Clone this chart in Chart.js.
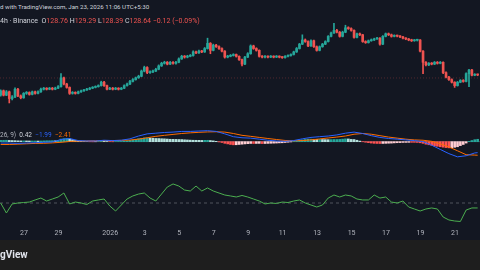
<!DOCTYPE html>
<html>
<head>
<meta charset="utf-8">
<script src="https://cdn.jsdelivr.net/npm/chart.js@4.4.1/dist/chart.umd.min.js"></script>
<style>
  html, body { margin: 0; padding: 0; background: #131722; }
  #wrap { position: relative; width: 480px; height: 270px; overflow: hidden; background: #131722;
          font-family: Roboto, "Liberation Sans", sans-serif; }
  canvas { position: absolute; left: 0; }
  .txt { position: absolute; white-space: nowrap; line-height: 1; }
  .red { color: #ef5350; }
</style>
</head>
<body>
<div id="wrap">
  <canvas id="main" width="480" height="110" style="top:14px"></canvas>
  <canvas id="macd" width="480" height="51" style="top:124px"></canvas>
  <canvas id="rsi" width="480" height="65" style="top:175px"></canvas>
  <div class="txt" style="left:0;top:4px;font-size:6.2px;color:#d1d4dc">d with TradingView.com, Jan 23, 2026 11:06 UTC+5:30</div>
  <div class="txt" id="legend" style="left:0;top:18px;font-size:7px;color:#d1d4dc"></div>
  <div class="txt" id="macdLegend" style="left:0;top:132px;font-size:6.5px;color:#b2b5be"></div>
  <div style="position:absolute;left:0;top:240px;width:480px;height:30px;background:#1e1e1e"></div>
  <div class="txt" style="left:0;top:250px;font-size:10px;font-weight:bold;color:#e0e3eb">gView</div>
</div>
<script>
// 4h candles, first one opens Dec 25 15:30 (UTC+5:30)
const firstCandle = Date.parse('2025-12-25T15:30:00+05:30');
const candleMs = 4 * 3600 * 1000;

const opens = [
  122.0,123.7,122.0,123.3,120.7,121.3,124.3,121.7,121.0,122.7,
  123.0,122.3,123.3,122.7,123.3,124.3,124.7,124.3,124.7,124.3,
  124.7,125.3,128.7,126.3,125.0,122.7,123.0,122.7,123.3,123.7,
  124.0,124.3,124.7,125.0,125.3,125.7,127.0,125.7,124.3,124.7,
  124.3,124.7,124.3,124.7,125.7,126.3,127.3,128.0,128.7,129.3,
  131.3,132.7,130.7,131.0,131.3,132.0,133.3,134.3,134.7,134.0,
  134.7,134.3,134.7,136.0,137.0,136.7,137.0,137.3,138.7,138.3,
  139.0,138.7,140.0,142.0,139.3,141.3,140.7,140.0,139.0,136.7,
  137.0,137.3,137.7,137.0,135.7,134.0,136.7,138.0,141.0,140.0,
  139.3,137.0,136.7,137.0,136.7,137.0,136.7,137.0,136.7,136.5,
  137.0,137.3,137.7,138.7,140.0,141.7,143.3,142.7,141.0,143.0,
  140.7,139.3,140.7,141.7,142.7,144.7,146.0,147.0,146.3,144.7,
  146.3,148.0,147.7,147.0,144.3,145.7,145.3,142.7,142.3,143.0,
  143.3,143.7,144.0,141.7,144.7,145.7,145.3,144.7,145.0,144.8,
  144.5,144.0,143.7,143.3,143.0,143.2,143.3,139.0,134.7,133.7,
  134.3,134.0,134.7,134.3,134.7,130.7,129.0,128.0,127.0,125.7,
  127.0,127.7,127.3,130.3,131.7,129.7,130.0
];
const highs = [
  124.1,124.0,123.8,123.6,121.8,124.8,124.6,122.1,123.0,123.4,
  123.3,123.6,123.6,123.7,124.7,125.0,124.9,125.0,125.0,125.1,
  125.7,130.3,129.0,126.6,125.2,123.4,123.3,123.6,124.0,124.3,
  124.6,125.0,125.3,125.6,126.0,127.4,127.3,125.9,125.0,125.0,
  125.0,124.9,125.0,126.0,126.7,127.7,128.4,129.0,129.7,131.7,
  133.2,133.0,131.4,131.7,132.4,133.7,134.7,135.1,135.0,135.0,
  135.0,135.1,136.4,137.4,137.3,137.4,137.7,139.1,139.0,139.4,
  139.3,140.4,144.0,142.3,141.7,141.6,141.0,140.3,139.2,137.4,
  137.7,138.0,137.9,137.2,135.9,137.0,138.4,141.4,141.3,140.3,
  139.5,137.3,137.3,137.2,137.3,137.2,137.3,137.2,136.9,137.3,
  137.6,138.0,139.0,140.4,142.0,145.3,143.7,143.0,143.4,143.3,
  141.0,141.0,142.0,143.0,145.0,146.4,149.7,147.4,146.6,146.7,
  149.0,148.4,148.0,147.2,146.0,146.0,145.5,143.0,143.3,143.7,
  144.0,144.3,144.2,145.0,146.0,146.0,145.6,145.3,145.2,145.0,
  144.7,144.2,143.9,143.6,143.5,143.6,143.5,139.2,135.0,134.6,
  134.6,135.0,135.0,135.0,134.9,131.0,129.3,128.3,127.2,127.3,
  128.0,128.0,130.6,132.0,132.0,130.3,130.2
];
const lows = [
  121.6,121.7,121.8,119.0,120.2,121.0,121.4,120.6,120.8,122.3,
  122.0,122.1,122.4,122.5,123.1,124.0,124.0,124.1,124.0,124.1,
  124.5,125.1,126.0,124.7,122.3,122.4,122.4,122.5,123.1,123.5,
  123.8,124.1,124.5,124.8,125.1,125.5,125.4,124.0,124.1,124.0,
  124.1,124.0,124.1,124.5,125.5,126.1,127.1,127.8,128.5,129.1,
  131.0,130.3,130.4,130.7,131.1,131.8,133.1,134.0,133.7,133.8,
  134.0,134.0,134.5,135.8,136.3,136.4,136.8,137.1,138.0,138.1,
  138.4,138.5,139.8,138.0,139.1,140.4,139.7,138.7,136.3,136.4,
  136.8,137.1,136.7,135.4,133.3,133.8,136.5,137.8,139.7,139.0,
  136.7,136.4,136.4,136.4,136.5,136.4,136.5,136.4,136.2,136.3,
  136.8,137.1,137.5,138.5,139.8,141.5,142.4,140.7,140.8,140.4,
  139.0,139.1,140.5,141.5,142.5,144.5,145.8,146.0,144.4,144.5,
  146.1,147.4,146.7,144.0,144.1,145.0,142.4,142.0,142.1,142.8,
  143.1,143.5,141.3,141.5,144.5,145.0,144.4,144.5,144.5,144.2,
  143.7,143.4,143.0,142.7,142.8,142.9,138.7,130.3,133.3,133.4,
  133.7,133.8,134.0,134.1,130.3,128.7,127.7,126.7,125.0,125.5,
  126.8,127.0,127.1,125.3,129.4,129.5,129.5
];
const closes = [
  123.7,122.0,123.3,120.7,121.3,124.3,121.7,121.0,122.7,123.0,
  122.3,123.3,122.7,123.3,124.3,124.7,124.3,124.7,124.3,124.7,
  125.3,128.7,126.3,125.0,122.7,123.0,122.7,123.3,123.7,124.0,
  124.3,124.7,125.0,125.3,125.7,127.0,125.7,124.3,124.7,124.3,
  124.7,124.3,124.7,125.7,126.3,127.3,128.0,128.7,129.3,131.3,
  132.7,130.7,131.0,131.3,132.0,133.3,134.3,134.7,134.0,134.7,
  134.3,134.7,136.0,137.0,136.7,137.0,137.3,138.7,138.3,139.0,
  138.7,140.0,142.0,139.3,141.3,140.7,140.0,139.0,136.7,137.0,
  137.3,137.7,137.0,135.7,134.0,136.7,138.0,141.0,140.0,139.3,
  137.0,136.7,137.0,136.7,137.0,136.7,137.0,136.7,136.5,137.0,
  137.3,137.7,138.7,140.0,141.7,143.3,142.7,141.0,143.0,140.7,
  139.3,140.7,141.7,142.7,144.7,146.0,147.0,146.3,144.7,146.3,
  148.0,147.7,147.0,144.3,145.7,145.3,142.7,142.3,143.0,143.3,
  143.7,144.0,141.7,144.7,145.7,145.3,144.7,145.0,144.8,144.5,
  144.0,143.7,143.3,143.0,143.2,143.3,139.0,134.7,133.7,134.3,
  134.0,134.7,134.3,134.7,130.7,129.0,128.0,127.0,125.7,127.0,
  127.7,127.3,130.3,131.7,129.7,130.0,129.8
];

// MACD (12, 26, 9): lines read every 3rd candle (plus the last), histogram per candle
const macdLine = [
  -0.25,-0.25,-0.31,-0.25,-0.19,-0.12,-0.06,0.38,0.56,0.19,
  0.12,0.12,0.25,0.19,0.25,0.50,1.00,1.38,1.50,1.62,
  1.69,1.81,1.81,1.88,1.94,1.81,1.38,0.88,0.69,0.62,
  0.44,0.25,0.12,0.06,0.19,0.50,0.75,0.88,1.00,1.19,
  1.50,1.69,1.44,1.06,0.75,0.56,0.44,0.31,0.19,0.00,
  -0.62,-1.38,-2.12,-2.69,-2.50,-2.00,-1.95
];
const signalLine = [
  -0.50,-0.50,-0.44,-0.38,-0.31,-0.29,-0.22,-0.12,0.03,0.10,
  0.12,0.15,0.18,0.20,0.22,0.28,0.44,0.69,0.94,1.12,
  1.28,1.44,1.56,1.65,1.72,1.75,1.69,1.44,1.12,0.94,
  0.75,0.56,0.38,0.21,0.15,0.19,0.31,0.48,0.65,0.81,
  1.00,1.31,1.44,1.31,1.06,0.81,0.62,0.44,0.31,0.25,
  0.06,-0.38,-0.94,-1.62,-2.31,-2.38,-2.41
];
const hist = [
  0.22,0.24,0.25,0.22,0.20,0.18,0.15,
  0.13,0.14,0.13,0.12,0.12,0.12,0.11,
  0.12,0.14,0.16,0.16,0.17,0.15,0.20,
  0.45,0.52,0.55,0.50,0.35,0.20,
  0.10,0.05,0.02,0.00,-0.02,-0.03,-0.02,0.02,0.08,
  0.07,0.03,-0.01,-0.02,0.00,0.02,0.03,0.08,0.14,
  0.22,0.30,0.42,0.52,0.58,0.66,0.68,
  0.64,0.60,0.56,0.55,0.52,0.50,0.46,
  0.42,0.41,0.40,0.38,0.37,0.33,0.30,0.27,
  0.25,0.24,0.23,0.22,0.23,0.24,0.20,0.14,0.06,
  -0.05,-0.15,-0.30,-0.40,-0.50,-0.56,-0.55,-0.50,
  -0.45,-0.40,-0.36,-0.32,-0.33,-0.32,-0.31,-0.34,-0.33,
  -0.31,-0.29,-0.27,-0.25,-0.22,-0.20,-0.15,-0.10,-0.05,
  0.04,0.13,0.22,0.31,0.38,0.44,0.44,0.42,0.40,
  0.40,0.38,0.36,0.35,0.36,0.38,0.38,0.40,
  0.45,0.50,0.48,0.40,0.38,0.25,0.10,
  -0.02,-0.10,-0.18,-0.25,-0.30,-0.32,-0.33,-0.32,
  -0.30,-0.28,-0.26,-0.22,-0.19,-0.17,-0.14,-0.13,
  -0.12,-0.12,-0.12,-0.14,-0.20,-0.30,-0.45,
  -0.55,-0.65,-0.75,-0.82,-0.90,-0.98,-1.05,
  -1.10,-1.08,-1.00,-0.90,-0.70,-0.50,-0.25,
  0.05,0.20,0.35,0.42
];

// RSI (14), read every 2nd candle
const rsi = [
  50,37.5,48.8,50,50.6,51.2,53.8,56.2,52.5,55,
  57.5,62.5,48.8,51.2,50,48.1,52.5,53.8,55,46.2,
  40,47.5,55,58.8,61.2,62.5,56.2,52.5,61.2,70,
  73.8,71.2,66.2,65,71.2,65,68.8,65,62.5,60,
  58.8,57.5,59.4,57.5,55,52.5,48.8,50,49.4,51.2,
  50.6,52.5,53.8,50,47.5,45,47.5,56.2,60,57.5,
  60,58.8,55,53.8,53.8,60,56.2,57.5,51.2,50,
  52.5,45,42.5,40,42.5,43.8,42.5,32.5,28.8,27.5,
  26.9,41.2,43.8,43.8
];

const legendOHLC = [128.76, 129.29, 128.39, 128.64];
const legendChange = [-0.12, -0.09];
const macdLegendValues = [0.42, -1.99, -2.41];
const lastPrice = 128.64;

const tickDates = ['2025-12-27','2025-12-29','2026-01-01','2026-01-03','2026-01-05','2026-01-07',
  '2026-01-09','2026-01-11','2026-01-13','2026-01-15','2026-01-17','2026-01-19','2026-01-21'];
const tickLabels = ['27','29','2026','3','5','7','9','11','13','15','17','19','21'];

// ---- layout helpers ----
const times = closes.map((c, i) => firstCandle + i * candleMs);
const macdIdx = macdLine.map((v, j) => Math.min(j * 3, closes.length - 1));
const rsiIdx = rsi.map((v, j) => j * 2);
const tickTimes = tickDates.map(d => Date.parse(d + 'T00:00:00+05:30'));
const msPerPx = (tickTimes[tickTimes.length - 1] - tickTimes[0]) / (455 - 24);
const xMin = tickTimes[0] - 24 * msPerPx;
const xMax = xMin + 480 * msPerPx;

const up = '#26a69a', down = '#ef5350';
const fmt = v => (v < 0 ? '\u2212' : '') + Math.abs(v).toFixed(2);

document.getElementById('legend').innerHTML =
  '4h \u00b7 Binance&nbsp; O<span class="red">' + legendOHLC[0].toFixed(2) +
  '</span> H<span class="red">' + legendOHLC[1].toFixed(2) +
  '</span> L<span class="red">' + legendOHLC[2].toFixed(2) +
  '</span> C<span class="red">' + legendOHLC[3].toFixed(2) +
  '</span> <span class="red">' + fmt(legendChange[0]) + ' (' + fmt(legendChange[1]) + '%)</span>';
document.getElementById('macdLegend').innerHTML =
  '26, 9)&nbsp; <span style="color:#d1d4dc">' + fmt(macdLegendValues[0]) +
  '</span>&nbsp; <span style="color:#2962ff">' + fmt(macdLegendValues[1]) +
  '</span>&nbsp; <span style="color:#ff6d00">' + fmt(macdLegendValues[2]) + '</span>';

function baseOptions(yMin, yMax, showX) {
  return {
    responsive: false,
    animation: false,
    devicePixelRatio: 1,
    layout: { padding: 0 },
    plugins: { legend: { display: false }, tooltip: { enabled: false } },
    scales: {
      x: {
        type: 'linear', min: xMin, max: xMax, offset: false, display: showX,
        grid: { display: false, drawTicks: false }, border: { display: false },
        afterBuildTicks: ax => { ax.ticks = tickTimes.map(v => ({ value: v })); },
        afterFit: ax => { ax.height = 15; },
        ticks: { autoSkip: false, maxRotation: 0, color: '#b2b5be', padding: 4,
                 font: { size: 7, family: 'Roboto' },
                 callback: (v, i) => tickLabels[i] }
      },
      y: { display: false, min: yMin, max: yMax }
    }
  };
}

Chart.defaults.font.family = 'Roboto';

// ---- price pane ----
const candleColors = closes.map((c, i) => c >= opens[i] ? up : down);
new Chart(document.getElementById('main'), {
  type: 'bar',
  data: {
    datasets: [
      { data: times.map((t, i) => ({ x: t, y: [opens[i], closes[i]] })),
        backgroundColor: candleColors, barThickness: 2, minBarLength: 1, grouped: false, order: 0 },
      { data: times.map((t, i) => ({ x: t, y: [lows[i], highs[i]] })),
        backgroundColor: candleColors, barThickness: 1, grouped: false, order: 1 },
      { type: 'line', data: [{ x: xMin, y: lastPrice }, { x: xMax, y: lastPrice }],
        borderColor: 'rgba(239,83,80,0.28)', borderWidth: 1, borderDash: [1, 2], pointRadius: 0, order: 2 }
    ]
  },
  options: baseOptions(158 - 124 / 3, 158 - 14 / 3, false)
});

// ---- MACD pane ----
const histColors = hist.map((h, i) => {
  const prev = i ? hist[i - 1] : h;
  if (h >= 0) return h >= prev ? '#26a69a' : '#b2dfdb';
  return h <= prev ? '#ff5252' : '#ffcdd2';
});
new Chart(document.getElementById('macd'), {
  type: 'bar',
  data: {
    datasets: [
      { type: 'line', data: macdIdx.map((k, j) => ({ x: times[k], y: macdLine[j] })),
        borderColor: '#2962ff', borderWidth: 1, pointRadius: 0, order: 0 },
      { type: 'line', data: macdIdx.map((k, j) => ({ x: times[k], y: signalLine[j] })),
        borderColor: '#ff6d00', borderWidth: 1, pointRadius: 0, order: 1 },
      { data: times.map((t, i) => ({ x: t, y: hist[i] })),
        backgroundColor: histColors, barThickness: 2, grouped: false, order: 2 },
      { type: 'line', data: [{ x: xMin, y: 0 }, { x: xMax, y: 0 }],
        borderColor: 'rgba(120,123,134,0.5)', borderWidth: 1, pointRadius: 0, order: 3 }
    ]
  },
  options: baseOptions(-26 / 8, 25 / 8, false)
});

// ---- RSI pane ----
new Chart(document.getElementById('rsi'), {
  type: 'line',
  data: {
    datasets: [
      { data: rsiIdx.map((k, j) => ({ x: times[k], y: rsi[j] })),
        borderColor: '#4caf50', borderWidth: 1, pointRadius: 0 },
      { data: [{ x: xMin, y: 50 }, { x: xMax, y: 50 }],
        borderColor: 'rgba(120,123,134,0.6)', borderWidth: 1, borderDash: [3, 3], pointRadius: 0 }
    ]
  },
  options: baseOptions(22.5, 85, true)
});
</script>
</body>
</html>
